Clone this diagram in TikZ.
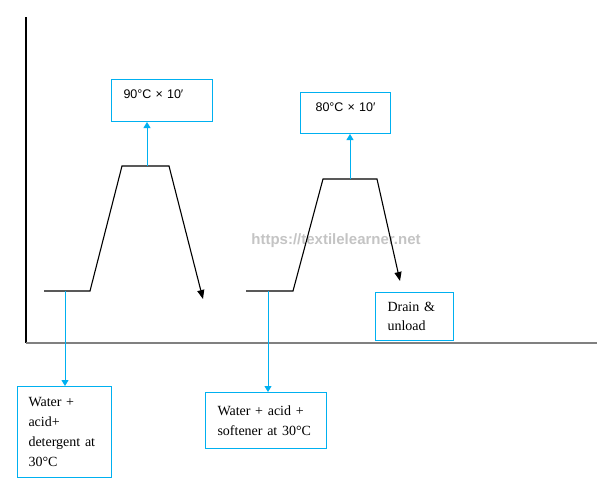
\documentclass[tikz,border=0pt]{standalone}
\usepackage{fontspec}
\setmainfont{Liberation Serif}
\newfontfamily\labelfont{Liberation Sans}
\usetikzlibrary{arrows.meta, positioning}
\definecolor{WordBlue}{HTML}{00B0F0}
\definecolor{AxisGray}{HTML}{808080}
\definecolor{MarkGray}{HTML}{C4C4C4}

\begin{document}
\begin{tikzpicture}[
    x=1pt, y=-1pt,
    >={Triangle[length=9pt,width=7pt]},
    profile/.style={draw=black, line width=1.1pt},
    flow/.style={draw=WordBlue, line width=1pt, -{Triangle[length=6pt,width=7pt]}},
    box/.style={
        draw=WordBlue,
        line width=1pt,
        anchor=north west,
        align=left,
        inner xsep=12pt,
        font=\fontsize{14}{19.7}\selectfont
    },
    temp/.style={
        box,
        font=\labelfont\fontsize{12.5}{16}\selectfont,
        text height=10pt,
        text depth=14pt
    },
    watermark/.style={text=MarkGray, font=\labelfont\bfseries\fontsize{15}{18}\selectfont}
]
\useasboundingbox (0,0) rectangle (606,491);

% watermark
\node[watermark] (site) at (336,241) {https://textilelearner.net};

% axes
\coordinate (O) at (26,343);
\coordinate (ytop) at (26,17);
\coordinate (xend) at (597,343);
\draw[line width=1.2pt] (ytop) -- (O);
\draw[draw=AxisGray, line width=2pt] (O) -- (xend);

% washing bath
\coordinate (a1) at (44,291);
\coordinate (a2) at (90,291);
\coordinate (a3) at (122,166);
\coordinate (a4) at (169,166);
\coordinate (a5) at (203,299);
\draw[profile, ->] (a1) -- (a2) -- (a3) -- (a4) -- (a5);

% softening bath
\coordinate (b1) at (246,291);
\coordinate (b2) at (293,291);
\coordinate (b3) at (323,179);
\coordinate (b4) at (377,179);
\coordinate (b5) at (400,281);
\draw[profile, ->] (b1) -- (b2) -- (b3) -- (b4) -- (b5);

% boxes
\node[temp, text width=77pt, minimum height=42pt] (hot) at (111,79) {90°C × 10′};
\node[temp, text width=66pt, align=center, minimum height=41pt] (warm) at (300,92) {80°C × 10′};
\node[box, inner xsep=11pt, text width=72pt, minimum height=91pt] (wash) at (17,386)
    {Water +\\ acid+\\ detergent at\\ 30°C};
\node[box, text width=97pt, minimum height=56pt] (soft) at (205,392)
    {Water + acid +\\ softener at 30°C};
\node[box, text width=54pt, minimum height=48pt] (drain) at (375,292) {Drain \&\\ unload};

% pointers
\coordinate (u1) at (147,166);
\coordinate (d1) at (65,291);
\coordinate (u2) at (350,179);
\coordinate (d2) at (268,291);
\draw[flow] (u1) -- (u1 |- hot.south);
\draw[flow] (d1) -- (d1 |- wash.north);
\draw[flow] (u2) -- (u2 |- warm.south);
\draw[flow] (d2) -- (d2 |- soft.north);

\end{tikzpicture}
\end{document}
